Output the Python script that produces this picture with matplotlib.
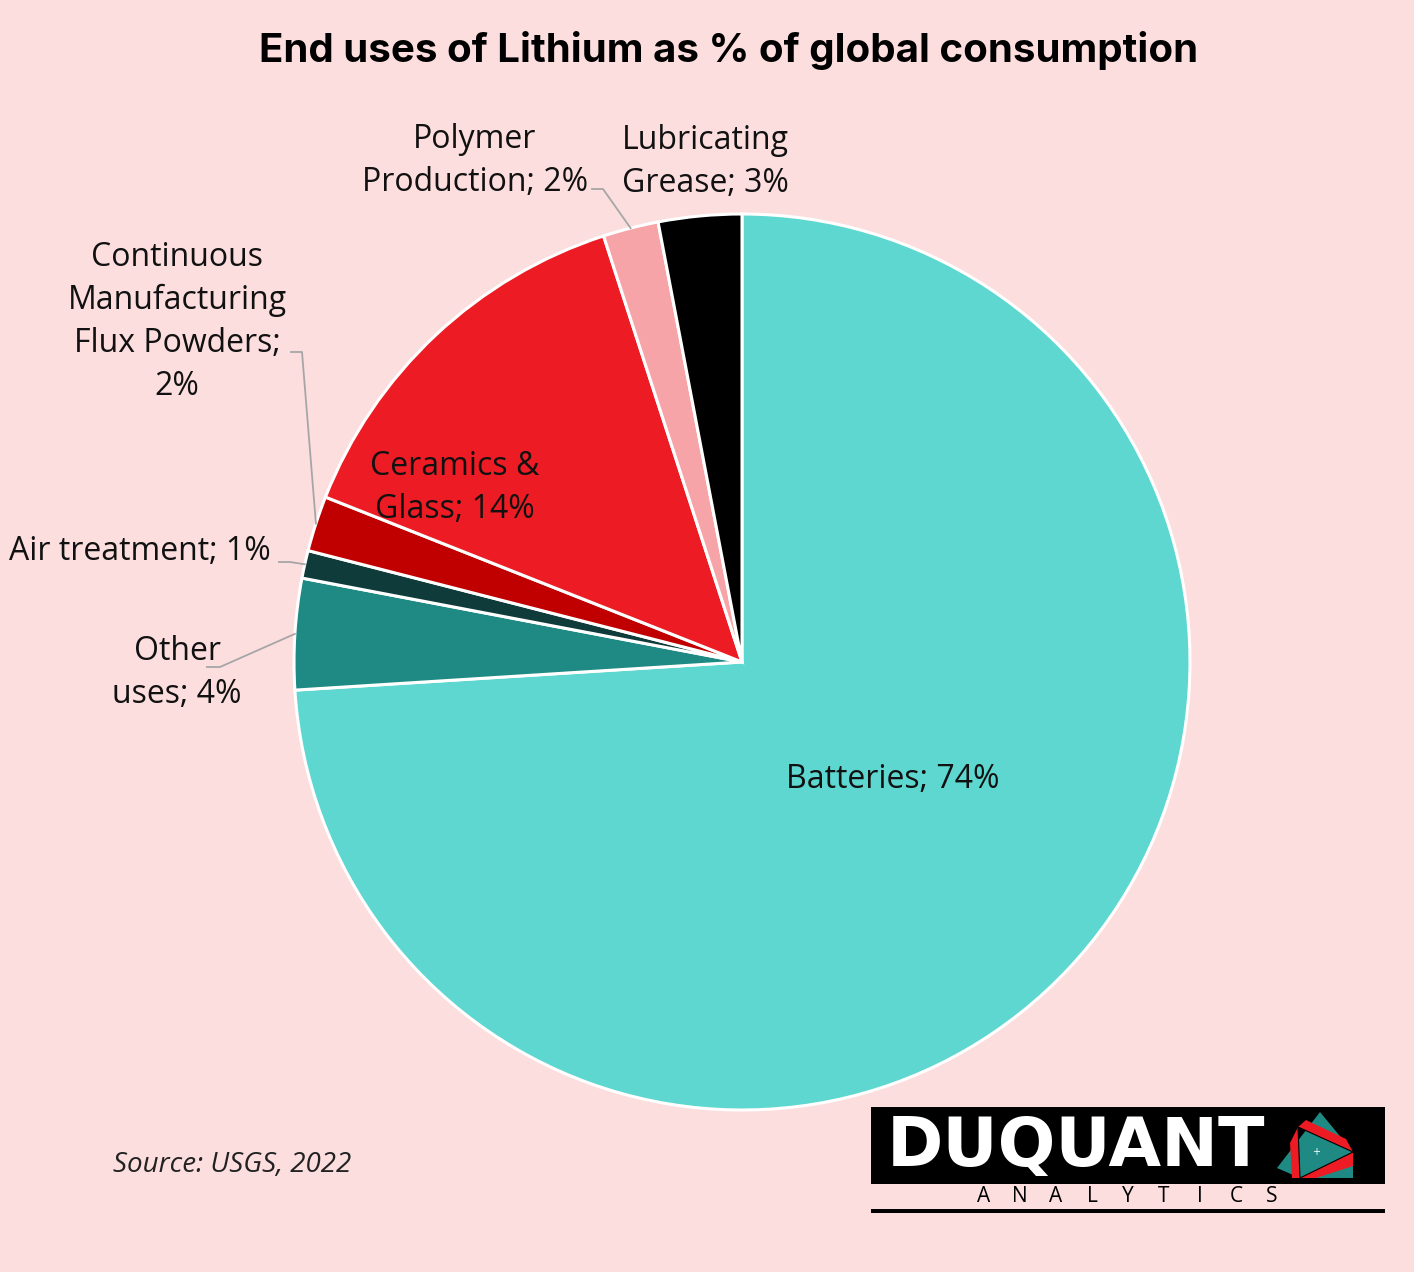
import matplotlib.pyplot as plt
from matplotlib.patches import Rectangle, Polygon
from matplotlib.lines import Line2D
import numpy as np

# data (clockwise from 12 o'clock)
labels = ["Batteries", "Other\nuses", "Air treatment", "Continuous\nManufacturing\nFlux Powders;",
          "Ceramics &\nGlass", "Polymer\nProduction", "Lubricating\nGrease"]
values = [74, 4, 1, 2, 14, 2, 3]
colors = ["#5DD7D0", "#1F8A84", "#0F3B3A", "#C00000", "#ED1C24", "#F7A4A8", "#000000"]

bg = "#FCDEDF"
W, H = 1414, 1272
fig = plt.figure(figsize=(W / 100, H / 100), dpi=100, facecolor=bg)

# pie centred at (742, 662) px, radius 448 px
cx, cy, R = 742, 662, 448
ax = fig.add_axes([(cx - R) / W, (H - cy - R) / H, 2 * R / W, 2 * R / H])
ax.set_facecolor(bg)
ax.axis("off")
wedges, _ = ax.pie(values, colors=colors, startangle=90, counterclock=False, radius=1,
                   wedgeprops=dict(edgecolor="white", linewidth=2.2))
ax.set_xlim(-1, 1)
ax.set_ylim(-1, 1)
ax.set_aspect("equal")

lab_font = dict(family=["Open Sans", "DejaVu Sans"], fontsize=23, color="#111111",
                linespacing=1.4, ha="center", va="center")


def px(x, y):
    # pixel position -> data coords of the pie axes
    return (x - cx) / R, (cy - y) / R


def mid_point(w, r=1.0):
    a = np.deg2rad((w.theta1 + w.theta2) / 2)
    return r * np.cos(a), r * np.sin(a)


def label_text(i):
    txt = labels[i]
    if i == 3:
        return txt + "\n" + f"{values[i]}%"
    return f"{txt}; {values[i]}%"


# label positions (px)
pos = {0: (893, 780), 1: (177, 673), 2: (140, 552), 3: (177, 322),
       4: (455, 488), 5: (475, 161), 6: (705, 162)}
for i, (x, y) in pos.items():
    ax.text(*px(x, y), label_text(i), clip_on=False, **lab_font)

# leader lines: short horizontal stub then to the wedge
leaders = {5: (592, 603, 189), 3: (291, 302, 352), 2: (279, 290, 562), 1: (207, 220, 667)}
for i, (x0, x1, y) in leaders.items():
    p0, p1 = px(x0, y), px(x1, y)
    p2 = mid_point(wedges[i])
    ax.add_line(Line2D([p0[0], p1[0], p2[0]], [p0[1], p1[1], p2[1]],
                       color="#A6A6A6", lw=1.3, clip_on=False))

fig.text(729 / W, 1 - 51 / H, "End uses of Lithium as % of global consumption",
         family=["Inter", "DejaVu Sans"], fontweight="bold", fontsize=29,
         ha="center", va="center", color="black")

fig.text(113 / W, 1 - 1165 / H, "Source: USGS, 2022", family=["Open Sans", "DejaVu Sans"],
         style="italic", fontsize=20, color="#222222", ha="left", va="center")


# logo
def fp(x, y):
    return x / W, 1 - y / H


def poly(pts, **kw):
    fig.patches.append(Polygon([fp(*p) for p in pts], closed=True,
                               transform=fig.transFigure, **kw))


fig.patches.append(Rectangle(fp(871, 1184), 514 / W, 77 / H, transform=fig.transFigure,
                             facecolor="black", edgecolor="none"))
fig.patches.append(Rectangle(fp(871, 1213), 514 / W, 4 / H, transform=fig.transFigure,
                             facecolor="black", edgecolor="none"))
fig.text(*fp(1076, 1147), "DUQUANT", family=["DejaVu Sans"], fontweight="bold",
         fontsize=49, color="white", ha="center", va="center")
analytics = "ANALYTICS"
for k, ch in enumerate(analytics):
    fig.text(*fp(984 + k * 36, 1197), ch, family=["Open Sans", "DejaVu Sans"],
             fontsize=15, color="black", ha="center", va="center")

poly([(1277, 1168), (1320, 1112), (1353, 1152), (1353, 1178), (1300, 1178)],
     facecolor="#1F8A84", edgecolor="none")
poly([(1298, 1127), (1306, 1120), (1346, 1139), (1353, 1152)], facecolor="#ED1C24", edgecolor="none")
poly([(1298, 1127), (1290, 1143), (1292, 1178), (1300, 1178)], facecolor="#ED1C24", edgecolor="none")
poly([(1353, 1152), (1353, 1166), (1316, 1178), (1300, 1178)], facecolor="#ED1C24", edgecolor="none")
poly([(1298, 1127), (1300, 1178), (1353, 1152)], facecolor="none", edgecolor="black", lw=0.8)
fig.text(*fp(1316, 1152), "+", fontsize=7, color="white", ha="center", va="center")

fig.savefig("out.png", dpi=100, facecolor=bg)
